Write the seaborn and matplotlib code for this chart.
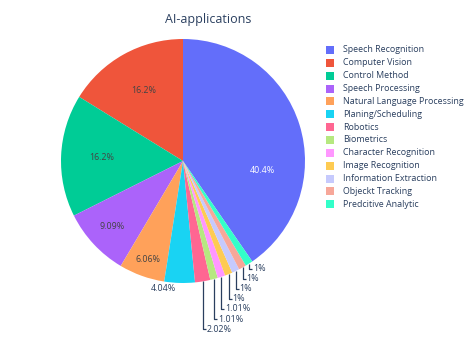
import numpy as np
import matplotlib
matplotlib.use("Agg")
import matplotlib.pyplot as plt
import seaborn as sns
from matplotlib.patches import Rectangle

# ---------------- data ----------------
categories = ["Speech Recognition", "Computer Vision", "Control Method", "Speech Processing",
              "Natural Language Processing", "Planing/Scheduling", "Robotics", "Biometrics",
              "Character Recognition", "Image Recognition", "Information Extraction",
              "Objeckt Tracking", "Predcitive Analytic"]
percents = [40.4, 16.2, 16.2, 9.09, 6.06, 4.04, 2.02, 1.01, 1.01, 1, 1, 1, 1]
colors = ["#636EFA", "#EF553B", "#00CC96", "#AB63FA", "#FFA15A", "#19D3F3", "#FF6692",
          "#B6E880", "#FF97FF", "#FECB52", "#C6CAFD", "#F7A799", "#33FFC9"]
title = "AI-applications"

sns.set_theme(style="white")
plt.rcParams["font.family"] = ["Open Sans", "DejaVu Sans"]

W, H = 474, 338
fig = plt.figure(figsize=(W / 100, H / 100), dpi=100)
ax = fig.add_axes([0, 0, 1, 1])

cx, cy_px, R = 183, 161, 122
cy = H - cy_px
txt_col = "#2a3f5f"
fs = 6.4

total = sum(percents)
start = 90 - 360 * percents[0] / total
wedges, _ = ax.pie(percents, colors=colors, startangle=start, counterclock=True,
                   radius=R, center=(cx, cy), wedgeprops=dict(linewidth=0),
                   frame=True)
ax.set_xlim(0, W)
ax.set_ylim(0, H)
ax.axis("off")

def lab(p):
    return f"{p:g}%"

# inside label placement (radial factor, angle offset in degrees)
inside_style = {0: (0.66, -24.4, "white"), 1: (0.66, 0, "#444444"), 2: (0.67, 0, "#444444"),
                3: (0.79, 0, "#444444"), 4: (0.86, 0, "#444444")}

outside_line = []
for i, w in enumerate(wedges):
    mid = np.deg2rad((w.theta1 + w.theta2) / 2)
    if i in inside_style:
        rf, off, col = inside_style[i]
        a = mid + np.deg2rad(off)
        ax.text(cx + rf * R * np.cos(a), cy + rf * R * np.sin(a), lab(percents[i]),
                ha="center", va="center", fontsize=fs, color=col)
    elif percents[i] >= 3:
        ex, ey = cx + R * np.cos(mid), cy + R * np.sin(mid)
        ax.text(ex - 4, ey - 6, lab(percents[i]), ha="right", va="center",
                fontsize=fs, color=txt_col)
    else:
        outside_line.append(i)

# leader-lined outside labels, stacked from the last slice backwards
prev = None
for i in reversed(outside_line):
    w = wedges[i]
    mid = np.deg2rad((w.theta1 + w.theta2) / 2)
    ex, ey = cx + R * np.cos(mid), cy + R * np.sin(mid)
    ly = ey - 5
    if prev is not None:
        ly = min(ly, prev - 10.1)
    prev = ly
    ax.plot([ex, ex, ex + 3], [ey, ly, ly], color=txt_col, lw=0.9, solid_capstyle="butt")
    ax.text(ex + 4, ly, lab(percents[i]), ha="left", va="center", fontsize=fs, color=txt_col)

# title
ax.text(208, H - 20, title, ha="center", va="center", fontsize=9.0, color=txt_col)

# legend
lx, ly0, step = 330, 50, 12.85
for k, (name, col) in enumerate(zip(categories, colors)):
    yy = H - (ly0 + k * step)
    ax.add_patch(Rectangle((lx - 4, yy - 4), 8, 8, facecolor=col, edgecolor="none"))
    ax.text(lx + 13, yy, name, ha="left", va="center", fontsize=fs, color=txt_col)

fig.savefig("out.png", dpi=100)
